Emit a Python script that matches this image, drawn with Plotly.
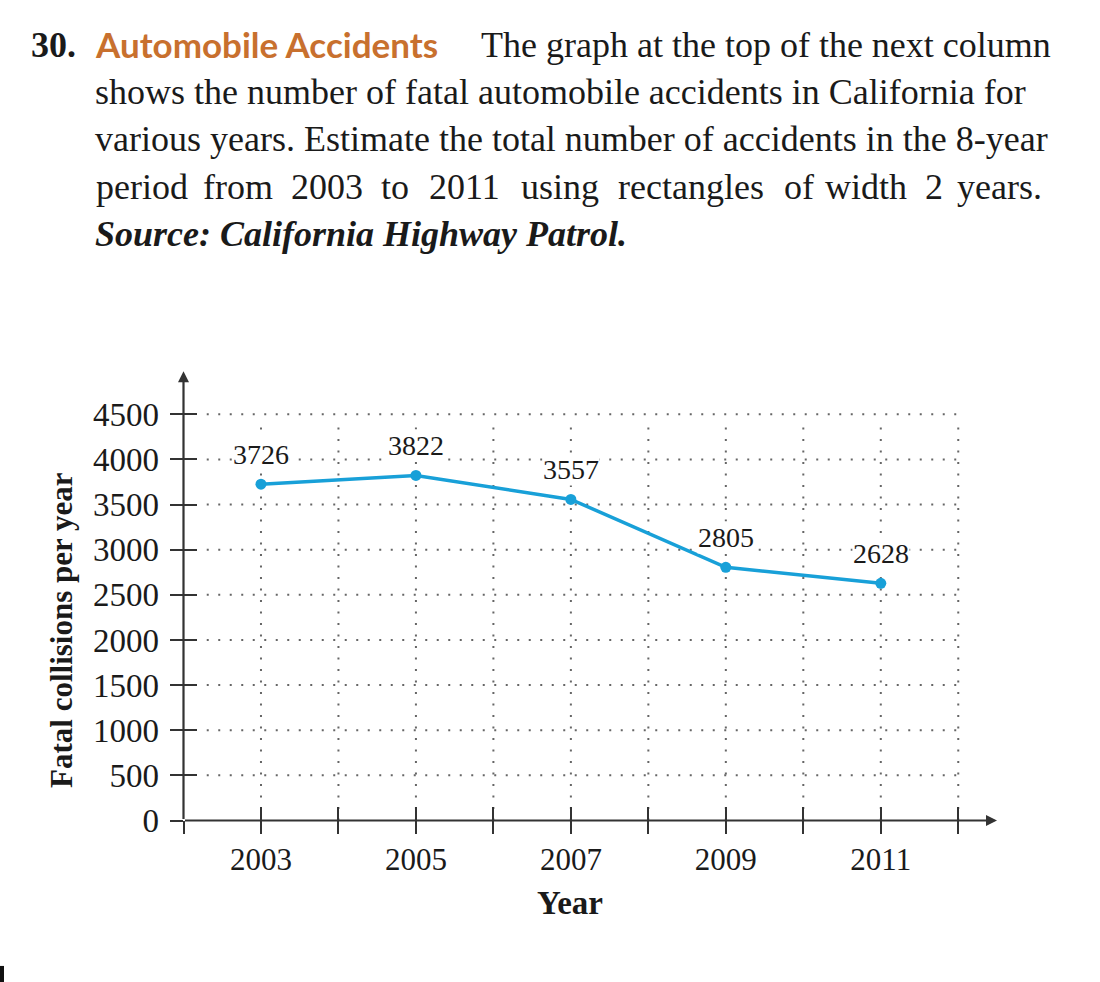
import plotly.graph_objects as go

# ---- data ----
years = [2003, 2005, 2007, 2009, 2011]
collisions = [3726, 3822, 3557, 2805, 2628]
x_ticks = list(range(2002, 2013))
x_tick_labels = ['' if y % 2 == 0 else str(y) for y in x_ticks]
y_ticks = list(range(0, 5000, 500))
y_tick_labels = [str(v) for v in y_ticks]

title_lines = [
    "shows the number of fatal automobile accidents in California for",
    "various years. Estimate the total number of accidents in the 8-year",
]
justified_words = ["period", "from", "2003", "to", "2011", "using",
                   "rectangles", "of", "width", "2", "years."]
justified_word_x = [96, 203, 291, 381, 429, 521, 618, 784, 825, 925, 957]

W, H = 1100, 982          # reference picture size
FIG_H = 1004              # page height that the photo is fitted from
def px(x): return x / W
def py(y): return 1 - y / H

X0, X1 = 2002, 2012.5
Y0, Y1 = 0, 4978

SERIF = "Liberation Serif"
BLUE = "#18a0d8"
AX = "#333333"
GRID = "#666666"
TXT = "#1a1a1a"

fig = go.Figure()
fig.add_trace(go.Scatter(
    x=years, y=collisions, mode='lines+markers',
    line=dict(color=BLUE, width=3.5),
    marker=dict(size=11, color=BLUE),
    cliponaxis=False, showlegend=False, hoverinfo='skip'))
# helper invisible trace on overlay axes
fig.add_trace(go.Scatter(x=[X0], y=[Y0], xaxis='x2', yaxis='y2', mode='markers',
                         marker=dict(opacity=0), showlegend=False, hoverinfo='skip'))

axis_common = dict(showgrid=False, zeroline=False, showline=False,
                   tickcolor=AX, tickwidth=2, ticklen=13)
fig.update_layout(
    width=W, height=FIG_H, margin=dict(l=0, r=0, t=0, b=0),
    paper_bgcolor='white', plot_bgcolor='white',
    xaxis=dict(domain=[px(183.5), px(997)], range=[X0, X1], anchor='y',
               tickvals=x_ticks, ticktext=x_tick_labels, ticks='outside',
               tickfont=dict(family=SERIF, size=31, color=TXT),
               ticklabelstandoff=-2, **axis_common),
    xaxis2=dict(overlaying='x', range=[X0, X1], anchor='y', tickvals=x_ticks,
                ticks='inside', showticklabels=False, **axis_common),
    yaxis=dict(domain=[py(818), py(370)], range=[Y0, Y1], anchor='x',
               tickvals=y_ticks, ticktext=y_tick_labels, ticks='outside',
               tickfont=dict(family=SERIF, size=33, color=TXT),
               ticklabelstandoff=4, **axis_common),
    yaxis2=dict(overlaying='y', range=[Y0, Y1], anchor='x', tickvals=y_ticks,
                ticks='inside', showticklabels=False, **axis_common),
)

shapes = []
# dotted gridlines
for v in y_ticks[1:]:
    shapes.append(dict(type='line', xref='x', yref='y', x0=X0 + 0.3, x1=x_ticks[-1],
                       y0=v, y1=v, layer='below',
                       line=dict(color=GRID, width=2, dash='2px,9.5px')))
for yr in x_ticks[1:]:
    shapes.append(dict(type='line', xref='x', yref='y', x0=yr, x1=yr,
                       y0=y_ticks[0], y1=y_ticks[-1] - 100, layer='below',
                       line=dict(color=GRID, width=2, dash='2px,9.5px')))
# small black mark at bottom left
shapes.append(dict(type='rect', xref='paper', yref='paper', x0=0, x1=px(4),
                   y0=py(982), y1=py(963), fillcolor='#111', line=dict(width=0)))
fig.update_layout(shapes=shapes)

ann = []
# axis lines with arrow heads
ann.append(dict(x=X1, y=Y0, ax=X0, ay=Y0, xref='x', yref='y', axref='x', ayref='y',
                showarrow=True, arrowhead=2, arrowsize=1, arrowwidth=2.2,
                arrowcolor=AX, text=''))
ann.append(dict(x=X0, y=Y1, ax=X0, ay=Y0, xref='x', yref='y', axref='x', ayref='y',
                showarrow=True, arrowhead=2, arrowsize=1, arrowwidth=2.2,
                arrowcolor=AX, text=''))
# data labels
for xv, yv in zip(years, collisions):
    ann.append(dict(x=xv, y=yv, xref='x', yref='y', text=str(yv), showarrow=False,
                    yshift=30, bgcolor='white', borderpad=0,
                    font=dict(family=SERIF, size=28, color=TXT)))

def ptext(x, y, text, size, xanchor='left', color=TXT, family=SERIF, angle=0):
    return dict(x=px(x), y=py(y), xref='paper', yref='paper', xanchor=xanchor,
                yanchor='middle', text=text, showarrow=False, textangle=angle,
                borderpad=0, borderwidth=0,
                font=dict(family=family, size=size, color=color))

# axis titles
ann.append(ptext(62, 628, '<b>Fatal collisions per year</b>', 31, xanchor='center', angle=-90))
ann.append(ptext(570, 900, '<b>Year</b>', 33, xanchor='center'))

# problem text
TS = 36
ann.append(ptext(31, 45, '<b>30.</b>', TS))
ann.append(ptext(95, 44, '<b>Automobile Accidents</b>', 35, color='#c8702e', family='Lato'))
ann.append(ptext(1051, 45, 'The graph at the top of the next column', TS, xanchor='right'))
for i, line in enumerate(title_lines):
    ann.append(ptext(95, 92 + 47 * i, line, TS))
for word, wx in zip(justified_words, justified_word_x):
    ann.append(ptext(wx, 186, word, TS))
ann.append(ptext(95, 233, '<b><i>Source: California Highway Patrol.</i></b>', TS))
fig.update_layout(annotations=ann)

post = """
document.documentElement.style.margin='0px';
document.documentElement.style.padding='0px';
document.body.style.margin='0px';
document.body.style.padding='0px';
"""
fig.write_html("out.html", config={'displayModeBar': False}, post_script=post)
